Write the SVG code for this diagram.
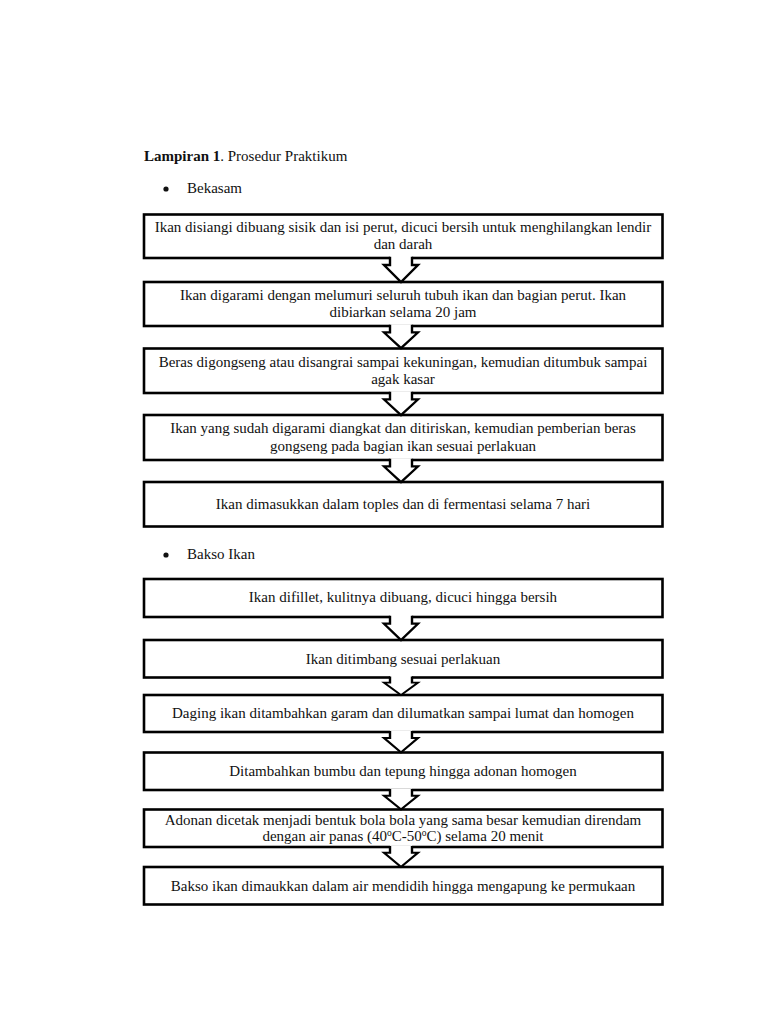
<svg xmlns="http://www.w3.org/2000/svg" width="768" height="1024" viewBox="0 0 768 1024">
<defs>
<style>
text{font-family:"Liberation Serif","Times New Roman",serif;font-size:15px;fill:#111}
.t{text-anchor:middle}
.box{fill:#fff;stroke:#000;stroke-width:2.6}
.af{fill:#fff;stroke:none}
.as{fill:none;stroke:#000;stroke-width:2.4;stroke-linejoin:miter}
</style>
<g id="arrow-shape">
<path class="af" d="M-11,-2 V7 H-17 L0,24 L17,7 H11 V-2 Z"/>
<path class="as" d="M-11,-1.3 V7 H-17 L0,24 L17,7 H11 V-1.3"/>
</g>
</defs>
<rect width="768" height="1024" fill="#fff"/>
<text x="144" y="161"><tspan font-weight="bold">Lampiran 1</tspan>. Prosedur Praktikum</text>
<circle cx="166" cy="189" r="2.6" fill="#111"/>
<text x="187" y="193">Bekasam</text>
<circle cx="166" cy="555" r="2.6" fill="#111"/>
<text x="187" y="559">Bakso Ikan</text>

<g id="n1"><rect class="box" x="144" y="214.5" width="518.5" height="43.5"/>
<text class="t" x="403" y="232">Ikan disiangi dibuang sisik dan isi perut, dicuci bersih untuk menghilangkan lendir</text>
<text class="t" x="403" y="249">dan darah</text></g>
<g id="n2"><rect class="box" x="144" y="282" width="518.5" height="44"/>
<text class="t" x="403" y="300">Ikan digarami dengan melumuri seluruh tubuh ikan dan bagian perut. Ikan</text>
<text class="t" x="403" y="317">dibiarkan selama 20 jam</text></g>
<g id="n3"><rect class="box" x="144" y="348.5" width="518.5" height="44.5"/>
<text class="t" x="403" y="367">Beras digongseng atau disangrai sampai kekuningan, kemudian ditumbuk sampai</text>
<text class="t" x="403" y="384">agak kasar</text></g>
<g id="n4"><rect class="box" x="144" y="415" width="518.5" height="45"/>
<text class="t" x="403" y="433">Ikan yang sudah digarami diangkat dan ditiriskan, kemudian pemberian beras</text>
<text class="t" x="403" y="451">gongseng pada bagian ikan sesuai perlakuan</text></g>
<g id="n5"><rect class="box" x="144" y="482" width="518.5" height="44.5"/>
<text class="t" x="403" y="509">Ikan dimasukkan dalam toples dan di fermentasi selama 7 hari</text></g>

<g id="m1"><rect class="box" x="144" y="579" width="518.5" height="38"/>
<text class="t" x="403" y="602">Ikan difillet, kulitnya dibuang, dicuci hingga bersih</text></g>
<g id="m2"><rect class="box" x="144" y="640" width="518.5" height="37.5"/>
<text class="t" x="403" y="664">Ikan ditimbang sesuai perlakuan</text></g>
<g id="m3"><rect class="box" x="144" y="695" width="518.5" height="37"/>
<text class="t" x="403" y="718">Daging ikan ditambahkan garam dan dilumatkan sampai lumat dan homogen</text></g>
<g id="m4"><rect class="box" x="144" y="752.5" width="518.5" height="37.5"/>
<text class="t" x="403" y="776">Ditambahkan bumbu dan tepung hingga adonan homogen</text></g>
<g id="m5"><rect class="box" x="144" y="809.5" width="518.5" height="37.5"/>
<text class="t" x="403" y="825">Adonan dicetak menjadi bentuk bola bola yang sama besar kemudian direndam</text>
<text class="t" x="403" y="841">dengan air panas (40<tspan font-size="9.5" dy="-5">o</tspan><tspan dy="5">C-50</tspan><tspan font-size="9.5" dy="-5">o</tspan><tspan dy="5">C) selama 20 menit</tspan></text></g>
<g id="m6"><rect class="box" x="144" y="867" width="518.5" height="37.5"/>
<text class="t" x="403" y="891">Bakso ikan dimaukkan dalam air mendidih hingga mengapung ke permukaan</text></g>

<g id="connectors">
<use href="#arrow-shape" transform="translate(401,258)"/>
<use href="#arrow-shape" transform="translate(401,326) scale(1,0.92)"/>
<use href="#arrow-shape" transform="translate(401,393) scale(1,0.92)"/>
<use href="#arrow-shape" transform="translate(401,460) scale(1,0.92)"/>
<use href="#arrow-shape" transform="translate(401,617) scale(1,0.96)"/>
<use href="#arrow-shape" transform="translate(401,677.5) scale(1,0.73)"/>
<use href="#arrow-shape" transform="translate(401,732) scale(1,0.85)"/>
<use href="#arrow-shape" transform="translate(401,790) scale(1,0.81)"/>
<use href="#arrow-shape" transform="translate(401,847) scale(1,0.83)"/>
</g>
</svg>
